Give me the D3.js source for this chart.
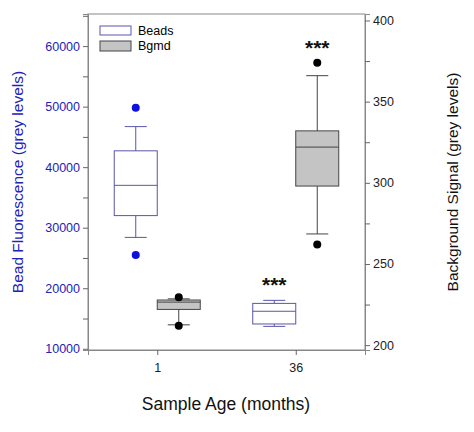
<!DOCTYPE html><html><head><script src="https://cdn.jsdelivr.net/npm/d3@7"></script>
<style>body{margin:0;background:#fff}text{font-family:Arial,"Liberation Sans",sans-serif}</style></head><body>
<svg id="c" width="474" height="432"></svg>
<script>
const categories=["1","36"];
const beads=[{lo:28400,q1:32000,med:37000,q3:42700,hi:46700,out:[49800,25500]},{lo:13700,q1:14100,med:16200,q3:17500,hi:18000,out:[]}];
const bgmd=[{lo:212.5,q1:222,med:226.5,q3:227.8,hi:228.5,out:[229.5,212]},{lo:268.5,q1:298,med:322,q3:332,hi:366,out:[374,262]}];
const leftTicks=[10000,20000,30000,40000,50000,60000];
const rightTicks=[200,250,300,350,400];
const stars=[{cat:"36",series:"beads",val:19300},{cat:"36",series:"bgmd",val:379}];
const svg=d3.select("#c");
const L=88,R=365,T=14,B=350;
const x=d3.scalePoint().domain(categories).range([L,R]).padding(0.5);
const yL=d3.scaleLinear().domain([9800,65300]).range([B,T]);
const yR=d3.scaleLinear().domain([197,404]).range([B,T]);
const bw=43;
const blue="#2222bb", bcol="#5a55aa";
svg.append("rect").attr("x",L).attr("y",T).attr("width",R-L).attr("height",B-T).attr("fill","none").attr("stroke","#888");
const la=svg.append("g").attr("transform",`translate(${L},0)`).call(d3.axisLeft(yL).tickValues(d3.range(10000,65001,5000)).tickSize(5).tickFormat(d=>leftTicks.includes(d)?d:""));
la.selectAll("text").attr("fill",blue).style("font-size","12.5px");
const ra=svg.append("g").attr("transform",`translate(${R},0)`).call(d3.axisRight(yR).tickValues(d3.range(200,401,25)).tickSize(5).tickFormat(d=>rightTicks.includes(d)?d:""));
ra.selectAll("text").attr("fill","#222").style("font-size","12.5px");
const xa=svg.append("g").attr("transform",`translate(0,${B})`).call(d3.axisBottom(x).tickSize(5));
xa.selectAll("text").style("font-size","12.5px").attr("fill","#222").attr("dy","1.1em");
svg.selectAll(".domain").attr("stroke","#888");svg.selectAll(".tick line").attr("stroke","#666");
function box(d,cx,y,stroke,fill,dot){
  const g=svg.append("g");
  g.append("line").attr("x1",cx).attr("x2",cx).attr("y1",y(d.lo)).attr("y2",y(d.hi)).attr("stroke",stroke);
  [d.lo,d.hi].forEach(v=>g.append("line").attr("x1",cx-11).attr("x2",cx+11).attr("y1",y(v)).attr("y2",y(v)).attr("stroke",stroke));
  g.append("rect").attr("x",cx-bw/2).attr("width",bw).attr("y",y(d.q3)).attr("height",y(d.q1)-y(d.q3)).attr("fill",fill).attr("stroke",stroke);
  g.append("line").attr("x1",cx-bw/2).attr("x2",cx+bw/2).attr("y1",y(d.med)).attr("y2",y(d.med)).attr("stroke",stroke);
  d.out.forEach(v=>g.append("circle").attr("cx",cx).attr("cy",y(v)).attr("r",4).attr("fill",dot));
}
categories.forEach((c,i)=>{
  box(beads[i],x(c)-bw/2,yL,bcol,"#fff","#1010dd");
  box(bgmd[i],x(c)+bw/2,yR,"#444","#c4c4c4","#000");
});
stars.forEach(s=>{
  const cx=x(s.cat)+(s.series==="beads"?-bw/2:bw/2);
  const yy=s.series==="beads"?yL(s.val):yR(s.val);
  svg.append("text").attr("x",cx).attr("y",yy).attr("text-anchor","middle").style("font-size","21px").style("font-weight","bold").attr("fill","#111").text("***");
});
const lg=svg.append("g");
lg.append("rect").attr("x",100).attr("y",26).attr("width",31).attr("height",9).attr("fill","#fff").attr("stroke",bcol);
lg.append("rect").attr("x",100).attr("y",41).attr("width",31).attr("height",10).attr("fill","#c4c4c4").attr("stroke","#444");
lg.append("text").attr("x",138).attr("y",35).style("font-size","12.5px").text("Beads");
lg.append("text").attr("x",138).attr("y",50).style("font-size","12.5px").text("Bgmd");
svg.append("text").attr("transform","translate(23,182) rotate(-90)").attr("text-anchor","middle").attr("fill",blue).style("font-size","15.5px").text("Bead Fluorescence (grey levels)");
svg.append("text").attr("transform","translate(458,182) rotate(-90)").attr("text-anchor","middle").attr("fill","#111").style("font-size","15.5px").text("Background Signal (grey levels)");
svg.append("text").attr("x",226).attr("y",410).attr("text-anchor","middle").attr("fill","#111").style("font-size","17.5px").text("Sample Age (months)");
</script></body></html>
